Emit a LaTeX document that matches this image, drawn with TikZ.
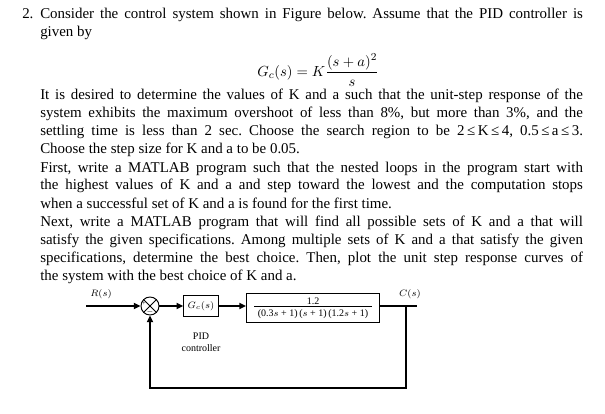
\documentclass[tikz,border=0pt]{standalone}
\usepackage{fontspec}
\setmainfont{Liberation Serif}
\usetikzlibrary{arrows.meta}
\frenchspacing
\begin{document}
\begin{tikzpicture}[x=0.75pt,y=-0.75pt,
  ln/.style={anchor=base west,inner sep=0pt,font=\fontsize{11.2}{13}\selectfont},
  blk/.style={draw,line width=0.6pt,inner sep=0pt,font=\fontsize{7.5}{9}\selectfont},
  sig/.style={line width=1.8pt,-{Triangle[length=5pt,width=4.5pt]}},
  sm/.style={font=\fontsize{7}{8}\selectfont,inner sep=0pt}]
\useasboundingbox (0,0) rectangle (605,413);
\def\W{407pt}
\node[ln] (n2) at (22,19) {2.};
\node[ln] (l1) at (40,19) {\makebox[\W][s]{Consider the control system shown in Figure below. Assume that the PID controller is}};
\node[ln] (l2) at (40,37) {given by};
\node[inner sep=0pt,font=\fontsize{11.2}{13}\selectfont] (eq) at (318,70) {$G_c(s)=K\displaystyle\frac{(s+a)^2}{s}$};
\node[ln] (l3) at (40,100) {\makebox[\W][s]{It is desired to determine the values of K and a such that the unit-step response of the}};
\node[ln] (l4) at (40,118) {\makebox[\W][s]{system exhibits the maximum overshoot of less than 8\%, but more than 3\%, and the}};
\node[ln] (l5) at (40,136) {\makebox[\W][s]{settling time is less than 2 sec. Choose the search region to be 2\,≤\,K\,≤\,4, 0.5\,≤\,a\,≤\,3.}};
\node[ln] (l6) at (40,154) {Choose the step size for K and a to be 0.05.};
\node[ln] (l7) at (40,172) {\makebox[\W][s]{First, write a MATLAB program such that the nested loops in the program start with}};
\node[ln] (l8) at (40,190) {\makebox[\W][s]{the highest values of K and a and step toward the lowest and the computation stops}};
\node[ln] (l9) at (40,208) {when a successful set of K and a is found for the first time.};
\node[ln] (l10) at (40,226) {\makebox[\W][s]{Next, write a MATLAB program that will find all possible sets of K and a that will}};
\node[ln] (l11) at (40,244) {\makebox[\W][s]{satisfy the given specifications. Among multiple sets of K and a that satisfy the given}};
\node[ln] (l12) at (40,262) {\makebox[\W][s]{specifications, determine the best choice. Then, plot the unit step response curves of}};
\node[ln] (l13) at (40,280) {the system with the best choice of K and a.};
% block diagram
\coordinate (in) at (86,306);
\node[draw,circle,line width=0.7pt,minimum size=13.5pt,inner sep=0pt] (sum) at (150,306) {};
\draw[line width=0.6pt] (sum.north west)--(sum.south east) (sum.north east)--(sum.south west);
\node[sm,font=\fontsize{5}{5}\selectfont] at (144,304) {+};
\node[sm,font=\fontsize{5}{5}\selectfont] at (150,312) {$-$};
\node[blk,minimum width=26pt,minimum height=16pt] (gc) at (201,306) {$G_c(s)$};
\node[blk,minimum width=100pt,minimum height=22pt] (pl) at (313,308) {};
\node[sm,font=\fontsize{7.5}{9}\selectfont] (num) at (313,301) {1.2};
\draw[line width=0.5pt] (254,306)--(372,306);
\node[sm,font=\fontsize{7.5}{9}\selectfont] (den) at (313,314) {(0.3$s$ + 1)\,($s$ + 1)\,(1.2$s$ + 1)};
\coordinate (out) at (417,306);
\coordinate (br) at (406,306);
\coordinate (b1) at (406,388);
\coordinate (b2) at (150,388);
\draw[sig] (in)--(sum);
\draw[sig] (sum)--(gc);
\draw[sig] (gc)--(pl.west|-gc);
\draw[line width=1.8pt] (pl.east|-out)--(out);
\draw[sig] (br)--(b1)--(b2)--(sum);
\node[sm] (rs) at (101,294) {$R(s)$};
\node[sm] (cs) at (410,294) {$C(s)$};
\node[sm,align=center,font=\fontsize{7.5}{9}\selectfont] (pid) at (201,342) {PID\\controller};
\end{tikzpicture}
\end{document}
